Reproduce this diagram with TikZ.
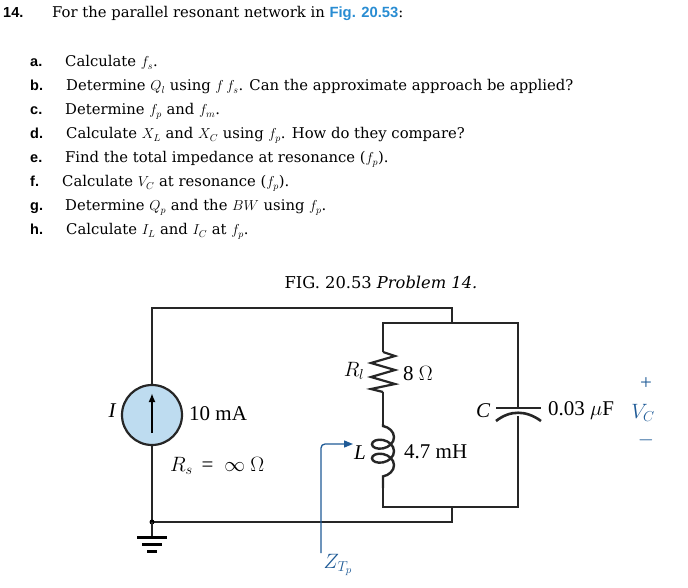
\documentclass[tikz,border=0pt]{standalone}
\usepackage{fontspec}
\setmainfont{DejaVu Serif}
\newfontfamily\tms{Liberation Serif}
\newfontfamily\lbl{Liberation Sans}
\usetikzlibrary{decorations.pathmorphing,arrows.meta}
\definecolor{figblue}{RGB}{40,140,210}
\definecolor{cblue}{RGB}{30,90,150}
\definecolor{srcfill}{RGB}{190,220,240}
\begin{document}
\begin{tikzpicture}[x=1pt,y=-1pt,
  wire/.style={line width=1.8pt,black!85},
  q/.style={anchor=base west,font=\fontsize{14.8}{16}\selectfont,inner sep=0},
  ql/.style={anchor=base west,font=\lbl\bfseries\fontsize{14.5}{16}\selectfont,inner sep=0},
  cl/.style={font=\tms\fontsize{21}{23}\selectfont,inner sep=0}]
\useasboundingbox (0,0) rectangle (688,588);
% problem text
\node[ql] (n14) at (3,18) {14.};
\node[q] (t0) at (52,18) {For the parallel resonant network in \textcolor{figblue}{\lbl\bfseries Fig. 20.53}:};
\node[ql] (la) at (30,67) {a.}; \node[q] (ta) at (65,67) {Calculate $f_s$.};
\node[ql] (lb) at (30,91) {b.}; \node[q] (tb) at (66,91) {Determine $Q_l$ using $f\,f_s$. Can the approximate approach be applied?};
\node[ql] (lc) at (30,115) {c.}; \node[q] (tc) at (65,115) {Determine $f_p$ and $f_m$.};
\node[ql] (ld) at (30,139) {d.}; \node[q] (td) at (66,139) {Calculate $X_L$ and $X_C$ using $f_p$. How do they compare?};
\node[ql] (le) at (30,163) {e.}; \node[q] (te) at (65,163) {Find the total impedance at resonance ($f_p$).};
\node[ql] (lf) at (30,187) {f.}; \node[q] (tf) at (62,187) {Calculate $V_C$ at resonance ($f_p$).};
\node[ql] (lg) at (30,211) {g.}; \node[q] (tg) at (65,211) {Determine $Q_p$ and the $BW$ using $f_p$.};
\node[ql] (lh) at (30,235) {h.}; \node[q] (th) at (66,235) {Calculate $I_L$ and $I_C$ at $f_p$.};
\node[inner sep=0,font=\fontsize{16.3}{18}\selectfont] (cap) at (381,282) {FIG. 20.53 \textit{Problem 14.}};
% circuit nodes
\node[circle,draw=black!85,line width=2.2pt,fill=srcfill,minimum size=60pt,inner sep=0] (src) at (152,415) {};
\coordinate (gnd) at (152,522);
\coordinate (tl) at (152,308); \coordinate (tr) at (452,308);
\coordinate (br) at (452,522);
\coordinate (itl) at (383,323); \coordinate (itr) at (518,323);
\coordinate (ibl) at (383,507); \coordinate (ibr) at (518,507);
\coordinate (r1) at (383,352); \coordinate (r2) at (383,392);
\coordinate (l1) at (383,424); \coordinate (l2) at (383,488);
\coordinate (c1) at (518,408); \coordinate (c2) at (518,416);
\draw[wire] (src.north) -- (tl) -- (tr) -- (452,323);
\draw[wire] (src.south) -- (gnd) -- (br) -- (452,507);
\draw[wire] (r1) -- (itl) -- (itr) -- (c1);
\draw[wire] (c2) -- (ibr) -- (ibl) -- (l2);
\draw[wire] (r2) -- (l1);
\draw[wire,line width=2.2pt,line join=miter] (r1) -- (395,356) -- (371,363) -- (395,370) -- (371,377) -- (395,384) -- (371,389) -- (r2);
\draw[wire,line width=2.4pt,decorate,decoration={coil,amplitude=11pt,segment length=14pt,aspect=0.7,pre length=2pt,post length=2pt}] (l1) -- (l2);
\draw[wire,line width=2.6pt] (496,408) -- (541,408);
\draw[wire,line width=2.6pt] (496,421) .. controls (510,410) and (526,410) .. (541,421);
\fill (gnd) circle (2.5pt);
\draw[wire] (gnd) -- (152,537);
\draw[line width=3pt] (137,537) -- (167,537) (142,544) -- (162,544) (147,551) -- (157,551);
\draw[-{Latex[length=9pt,width=7pt]},line width=2.4pt] (152,433) -- (152,393);
% Z arrow
\coordinate (za) at (321,553);
\draw[cblue,line width=1.3pt,-{Triangle[length=9pt,width=7pt]},rounded corners=4pt] (za) -- (321,444) -- (353,444);
% labels
\node[cl,font=\tms\itshape\fontsize{21}{23}\selectfont] (lI) at (112,411) {I};
\node[cl,anchor=west] (l10) at (189,414) {10 mA};
\node[cl,anchor=west] (lRs) at (170,466) {$R_s$ \,=\; $\infty$ $\Omega$};
\node[cl] (lRl) at (354,371) {$R_l$};
\node[cl,anchor=west] (l8) at (403,374) {8 $\Omega$};
\node[cl] (lL) at (360,453) {\itshape L};
\node[cl,anchor=west] (l47) at (404,452) {4.7 mH};
\node[cl] (lC) at (483,411) {\itshape C};
\node[cl,anchor=west] (l003) at (548,411) {0.03 $\mu$F};
\node[cl,text=cblue] (lVc) at (643,413) {$V_C$};
\node[cl,text=cblue] (lp) at (646,384) {+};
\node[cl,text=cblue] (lm) at (646,440) {$-$};
\node[cl,text=cblue] (lZ) at (338,565) {$Z_{T_p}$};
\end{tikzpicture}
\end{document}
